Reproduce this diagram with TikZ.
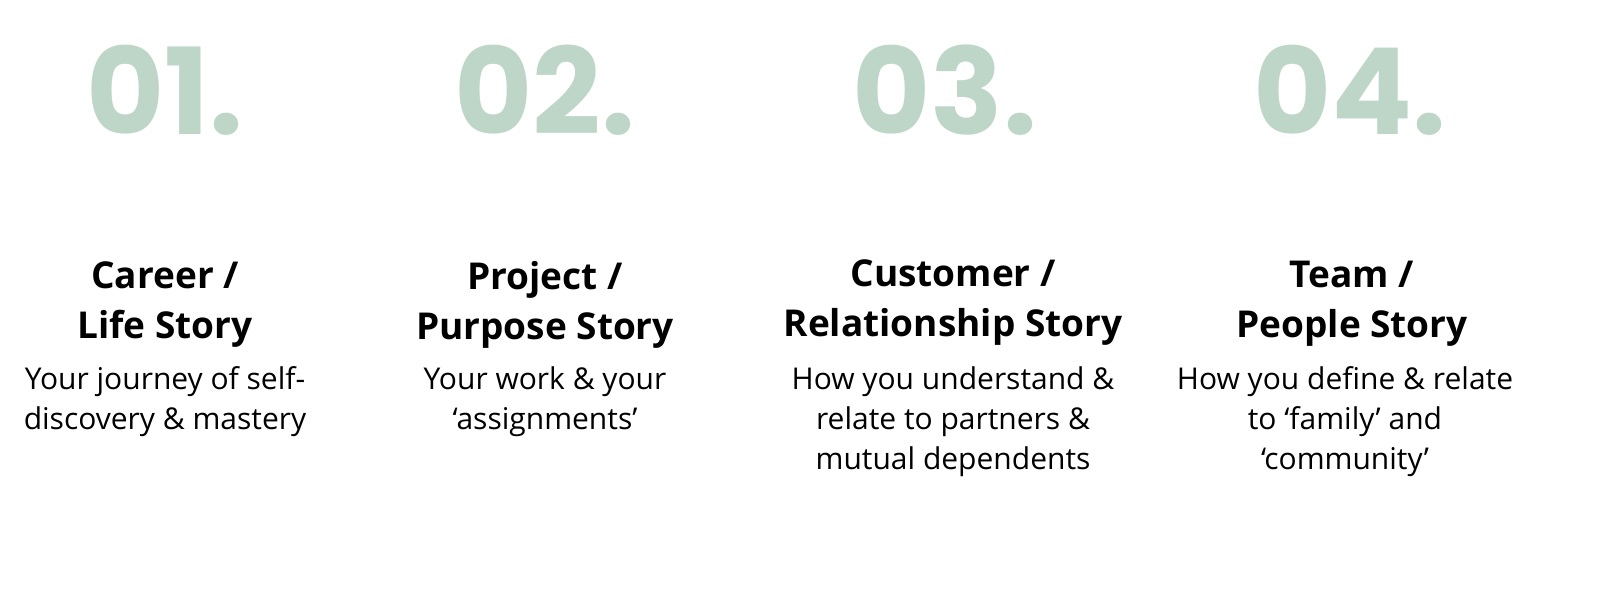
\documentclass[tikz,border=0pt]{standalone}
\usepackage{fontspec}
\setmainfont{Open Sans}
\newfontfamily\numfont{Poppins}
\definecolor{sage}{HTML}{BED6C8}
\begin{document}
\begin{tikzpicture}[x=1pt,y=-1pt,
  num/.style={font=\numfont\bfseries\fontsize{120}{120}\selectfont,text=sage,anchor=center,inner sep=0},
  ttl/.style={font=\bfseries\fontsize{37}{50}\selectfont,align=center,anchor=north,inner sep=0},
  body/.style={font=\fontsize{30}{40}\selectfont,align=center,anchor=north,inner sep=0}]
\useasboundingbox (0,0) rectangle (1613,598);
\node[num] (n1) at (165,90) {01.};
\node[num] (n2) at (545,90) {02.};
\node[num] (n3) at (945,90) {03.};
\node[num] (n4) at (1350,90) {04.};
\node[ttl] (t1) at (165,261) {Career /\\Life Story};
\node[ttl] (t2) at (545,261) {Project /\\Purpose Story};
\node[ttl] (t3) at (953,259) {Customer /\\Relationship Story};
\node[ttl] (t4) at (1352,261) {Team /\\People Story};
\node[body] (b1) at (165,366) {Your journey of self-\\discovery \& mastery};
\node[body] (b2) at (545,366) {Your work \& your\\‘assignments’};
\node[body] (b3) at (953,366) {How you understand \&\\relate to partners \&\\mutual dependents};
\node[body] (b4) at (1345,366) {How you define \& relate\\to ‘family’ and\\‘community’};
\end{tikzpicture}
\end{document}
